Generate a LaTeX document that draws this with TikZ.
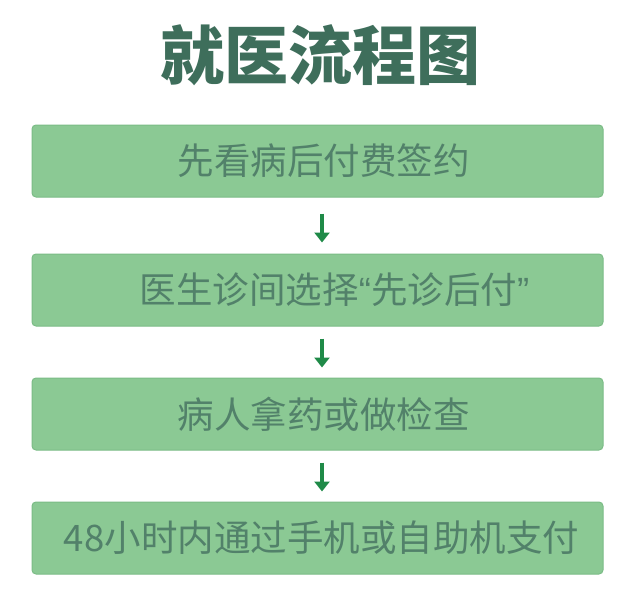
\documentclass[tikz,border=0pt]{standalone}
\usepackage{fontspec}
\usepackage{xcolor}
\usetikzlibrary{arrows.meta}
\setmainfont{Noto Sans CJK SC}
\newfontfamily\quotefont{Liberation Sans}
\definecolor{stepgreen}{HTML}{8BC994}
\definecolor{stepedge}{HTML}{7BBC86}
\definecolor{steptext}{HTML}{52816A}
\definecolor{titlegreen}{HTML}{3E6E5B}
\definecolor{arrowgreen}{HTML}{1F8A48}
\newcommand{\steptextfont}{\fontsize{36.5}{40}\selectfont}
\newcommand{\titletextfont}{\fontsize{64}{70}\selectfont\bfseries}

\begin{document}
\begin{tikzpicture}[x=1pt,y=-1pt,font=\steptextfont]
\useasboundingbox[fill=white] (0,0) rectangle (640,602);
\node[text=titlegreen,font=\titletextfont] (title) at (320,55) {就医流程图};

\node[draw=stepedge,fill=stepgreen,rounded corners=4pt,minimum width=571pt,minimum height=72pt,text=steptext,line width=1pt] (sign) at (317.5,161) {\hspace*{12pt}先看病后付费签约};
\node[draw=stepedge,fill=stepgreen,rounded corners=4pt,minimum width=571pt,minimum height=72pt,text=steptext,line width=1pt] (choose) at (317.5,290) {\hspace*{34pt}医生诊间选择{\quotefont “}先诊后付{\quotefont ”}};
\node[draw=stepedge,fill=stepgreen,rounded corners=4pt,minimum width=571pt,minimum height=72pt,text=steptext,line width=1pt] (exam) at (317.5,414) {\hspace*{12pt}病人拿药或做检查};
\node[draw=stepedge,fill=stepgreen,rounded corners=4pt,minimum width=571pt,minimum height=72pt,text=steptext,line width=1pt] (pay) at (317.5,538) {\hspace*{8pt}48小时内通过手机或自助机支付};

\draw[-{Triangle[width=15pt,length=10pt]},line width=3.5pt,color=arrowgreen] ([xshift=4.5pt,yshift=-16pt]sign.south) -- ([xshift=4.5pt,yshift=11pt]choose.north);
\draw[-{Triangle[width=15pt,length=10pt]},line width=3.5pt,color=arrowgreen] ([xshift=4.5pt,yshift=-12pt]choose.south) -- ([xshift=4.5pt,yshift=10pt]exam.north);
\draw[-{Triangle[width=15pt,length=10pt]},line width=3.5pt,color=arrowgreen] ([xshift=4.5pt,yshift=-12pt]exam.south) -- ([xshift=4.5pt,yshift=10pt]pay.north);
\end{tikzpicture}
\end{document}
